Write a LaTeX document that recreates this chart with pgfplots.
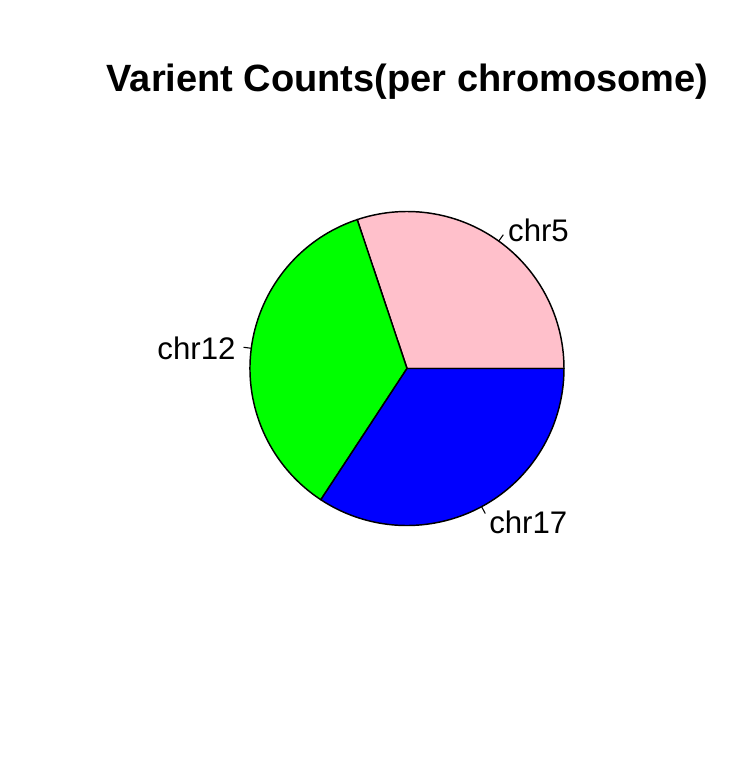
\documentclass[border=0pt]{standalone}
\usepackage{pgfplots}
\usepackage{pgfplotstable}
\pgfplotsset{compat=1.18}
\usepackage{fontspec}
\setmainfont{Liberation Sans}
\definecolor{piepink}{HTML}{FFC0CB}
\definecolor{piegreen}{HTML}{00FF00}
\definecolor{pieblue}{HTML}{0000FF}
\pgfplotstableread{
name count
chr5 22
chr12 26
chr17 25
}\piedata
\begin{document}
\begin{tikzpicture}
\pgfplotstablegetelem{0}{count}\of\piedata \let\cA\pgfplotsretval
\pgfplotstablegetelem{1}{count}\of\piedata \let\cB\pgfplotsretval
\pgfplotstablegetelem{2}{count}\of\piedata \let\cC\pgfplotsretval
\pgfmathsetmacro\tot{\cA+\cB+\cC}
\pgfmathsetmacro\angA{360*\cA/\tot}
\pgfmathsetmacro\angB{\angA+360*\cB/\tot}
\pgfmathsetmacro\midA{\angA/2}
\pgfmathsetmacro\midB{(\angA+\angB)/2}
\pgfmathsetmacro\midC{(\angB+360)/2}
\begin{axis}[width=553.5pt, height=583.5pt, scale only axis,
  xmin=0, xmax=738, ymin=0, ymax=778, hide axis, clip=false]
\addplot[draw=none] coordinates {(0,0) (738,778)};
% wedges (radius 157 px = 117.75pt)
\filldraw[fill=piepink, line width=1.1pt, line join=round]
  (axis cs:407,409.5) -- ++(0:117.75pt) arc[start angle=0, end angle=\angA, radius=117.75pt] -- cycle;
\filldraw[fill=piegreen, line width=1.1pt, line join=round]
  (axis cs:407,409.5) -- ++(\angA:117.75pt) arc[start angle=\angA, end angle=\angB, radius=117.75pt] -- cycle;
\filldraw[fill=pieblue, line width=1.1pt, line join=round]
  (axis cs:407,409.5) -- ++(\angB:117.75pt) arc[start angle=\angB, end angle=360, radius=117.75pt] -- cycle;
% tick lines
\draw[line width=0.8pt] ([shift={(\midA:117.75pt)}]axis cs:407,409.5) -- ([shift={(\midA:123.64pt)}]axis cs:407,409.5);
\draw[line width=0.8pt] ([shift={(\midB:117.75pt)}]axis cs:407,409.5) -- ([shift={(\midB:123.64pt)}]axis cs:407,409.5);
\draw[line width=0.8pt] ([shift={(\midC:117.75pt)}]axis cs:407,409.5) -- ([shift={(\midC:123.64pt)}]axis cs:407,409.5);
% labels
\node[anchor=base west, inner sep=0pt, font=\fontsize{23.4}{28}\selectfont]
  at ([shift={(\midA:129.5pt)}, yshift=-9.8pt]axis cs:407,409.5) {chr5};
\node[anchor=base east, inner sep=0pt, font=\fontsize{23.4}{28}\selectfont]
  at ([shift={(\midB:129.5pt)}, yshift=-9.8pt]axis cs:407,409.5) {chr12};
\node[anchor=base west, inner sep=0pt, font=\fontsize{23.4}{28}\selectfont]
  at ([shift={(\midC:129.5pt)}, yshift=-9.8pt]axis cs:407,409.5) {chr17};
% title
\node[anchor=base, inner sep=0pt, font=\fontsize{28.5}{34}\selectfont\bfseries]
  at (axis cs:407.5,686) {Varient Counts(per chromosome)};
\end{axis}
\end{tikzpicture}
\end{document}
